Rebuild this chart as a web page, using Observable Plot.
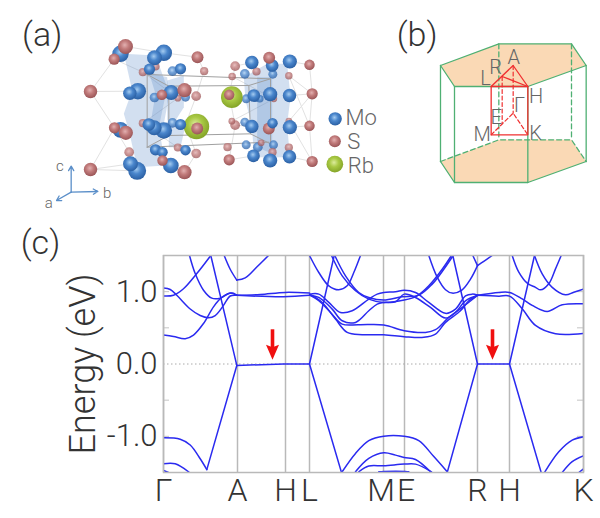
<!DOCTYPE html>
<html><head><meta charset="utf-8">
<script src="https://cdn.jsdelivr.net/npm/d3@7"></script>
<script src="https://cdn.jsdelivr.net/npm/@observablehq/plot@0.6"></script>
<style>
html,body{margin:0;padding:0;background:#fff;width:600px;height:518px;overflow:hidden}
#wrap{position:relative;width:600px;height:518px}
#wrap svg{position:absolute;background:transparent;overflow:visible}
</style></head><body><div id="wrap"></div>
<script>
const FONT = "Roboto,sans-serif";
// ---------- panel (c): band structure [k, energy eV]
const kTicks = [0,74,122,146,220,241,314,346,420];
const kLabelPos = [0,74,122,146,217.5,242.5,314,346,420];
const kLabels = ["Γ","A","H","L","M","E","R","H","K"];
const energyTicks = [-1,0,1];
const minorTicks = [-1,-0.5,0.5,1];
const arrowK = [109,329];
const straightBands = [
 [[47.3,1.5],[73.3,-0.02],[120,0],[146,0],[170.7,1.5]],
 [[73.3,-0.02],[43.3,-1.46]],
 [[146,0],[178,-1.5]],
 [[289.3,1.5],[314,0],[346,0],[371,1.5]],
 [[314,0],[283.7,-1.5]],
 [[346,0],[377.7,-1.5]]
];
const bandG1=[[0,1.05],[6.7,1.03],[13.3,.95],[26.7,.76],[36.7,.67],[45,.64],[51.7,.67],[60,.81],[66.7,.94],[73.3,.95]];
const bandG2=[[0,.94],[10,.95],[20,1.04],[33.3,1.25],[47.3,1.5]];
const bandG3=[[26,1.5],[31.7,1.25],[40,1.02],[48.3,.91],[56.7,.91],[66.7,.98],[73.3,.95]];
const bandG4=[[0,.40],[10,.38],[21.7,.35],[30,.40],[40,.56],[50,.79],[58.3,.92],[68.3,.98],[73.3,.95]];
const bandG5=[[43.3,-1.46],[36.7,-1.31],[26.7,-1.12],[16.7,-1.04],[0,-1.02]];
const bandG6=[[0,-1.38],[11.7,-1.38],[26,-1.5]];
const bandG7=[[0,-1.47],[5,-1.5]];
const bandA1=[[60.7,1.5],[66.7,1.31],[73.3,1.16]];
const bandA2=[[73.3,1.16],[81.7,1.19],[93.3,1.34],[105,1.5]];
const flat1=[[73.3,.95],[96.7,.96],[121.7,.99],[146,.98]];
const flat2=[[73.3,.95],[120,.93],[146,.95]];
const bandL1=[[146,1.5],[155.3,1.265],[165.3,1.081],[175.3,1.026],[183.7,1.081],[190.3,1.265],[197,1.5]];
const bandL2=[[168,1.5],[178.7,1.219],[192,1.012],[205.3,.897],[220.3,.851],[240.7,.884],[253.7,.943],[265.3,1.081],[278.7,1.31],[288,1.5]];
const bandL3=[[171.3,1.5],[182,1.219],[195.3,.989],[205.3,.92],[220.3,.884],[238.7,.93],[255.3,.952],[268.7,1.104],[280.3,1.31],[289.7,1.5]];
const bandL4=[[265.3,1.5],[273.7,1.2],[282,1.026],[288.7,.98],[298.7,1.026],[307,1.173],[314,1.36]];
const bandL5=[[309.3,1.5],[314,1.36]];
const bandL6=[[314,1.36],[320.3,1.42],[328.7,1.5]];
const bandM1=[[146.3,.966],[155.3,.966],[165.3,.851],[177,.713],[188.7,.736],[205.3,.897],[213.7,.966],[220.3,.989],[232,.998],[240.7,1.021],[252,.989],[265.3,.851],[282,.70],[292,.759],[302,.943],[308.7,.966],[314.3,.95]];
const bandM2=[[146.3,.952],[155.3,.92],[168.7,.759],[178.7,.598],[192,.575],[205.3,.736],[213.7,.828],[220.3,.851],[232,.86],[240.7,.966],[252,.92],[267,.782],[282,.635],[292,.713],[302,.874],[314.3,.95]];
const bandM3=[[146.3,.952],[155.3,.874],[167,.713],[178.7,.552],[195.3,.543],[220.3,.539],[240.7,.46],[262,.437],[272,.474],[285.3,.644],[298.7,.782],[314.3,.95]];
const bandM4=[[146.3,.966],[158.7,.851],[172,.621],[183.7,.437],[198.7,.405],[220.3,.405],[240.7,.378],[260.3,.369],[272,.414],[282,.575],[297,.736],[305.3,.874],[314.3,.95]];
const lowM1=[[178.7,-1.49],[192,-1.237],[205.3,-1.06],[220.3,-.998],[240.7,-1.0],[255.3,-1.06],[270.3,-1.28],[283.7,-1.49]];
const lowM2=[[192,-1.49],[205.3,-1.306],[220.3,-1.228],[232,-1.26],[240.7,-1.292],[252,-1.32],[267,-1.49]];
const lowM3=[[195.3,-1.49],[205.3,-1.41],[220.3,-1.407],[240.7,-1.384],[252,-1.384],[268,-1.49]];
const lowM4=[[215.3,-1.49],[220.3,-1.485],[242,-1.485],[245.3,-1.49]];
const bandK1=[[314,.95],[335.3,.938],[346,.938],[358.7,.763],[372,.533],[392,.418],[419.7,.423]];
const bandK2=[[314,.95],[335.3,.989],[346,.989],[358.7,.90],[368.7,.81],[383.7,.726],[398.7,.818],[419.7,.832]];
const bandK3=[[348.7,1.5],[355.3,1.27],[364.3,1.11],[372,1.06],[377,1.025],[385.3,1.11],[392,1.315],[397.7,1.5]];
const bandK4=[[371,1.5],[378.7,1.246],[388.7,1.06],[402,.956],[410.3,.993],[419.7,1.034]];
const lowK1=[[381,-1.5],[395.3,-1.214],[408.7,-1.053],[419.7,-1.007]];
const lowK2=[[398.7,-1.5],[408.7,-1.35],[419.7,-1.27]];
const lowK3=[[415.3,-1.5],[419.7,-1.453]];
const smoothBands=[bandG1,bandG2,bandG3,bandG4,bandG5,bandG6,bandG7,bandA1,bandA2,flat1,flat2,bandL1,bandL2,bandL3,bandL4,bandL5,bandL6,bandM1,bandM2,bandM3,bandM4,lowM1,lowM2,lowM3,lowM4,bandK1,bandK2,bandK3,bandK4,lowK1,lowK2,lowK3];

// ---------- panel (a): crystal, image-space positions [x, y, radius]
const moAtoms=[[360,160,22],[462,172,20],[490,157,22],[447,206,15],[540,205,15],[516,212,13],[412,272,22],[388,278,18],[462,291,13],[512,276,20],[555,290,12],[445,372,17],[461,382,20],[360,388,21],[490,390,22],[516,367,13],[540,372,15],[465,448,15],[486,455,14],[555,449,14],[390,490,20],[410,511,24],[511,495,21],[754,186,18],[868,183,19],[815,195,17],[733,220,13],[817,221,12],[760,285,17],[809,281,19],[867,285,18],[737,295,12],[765,291,12],[778,295,10],[733,365,12],[754,378,18],[816,368,14],[868,380,19],[737,433,12],[772,440,13],[819,433,12],[759,466,17],[809,480,19],[867,469,18]];
const sAtoms=[[375,138,20],[341,176,15],[591,170,16],[427,215,11],[465,198,11],[611,212,11],[270,273,18],[552,269,19],[484,283,14],[587,287,13],[532,293,9],[342,382,15],[376,397,19],[427,368,11],[590,384,16],[532,441,11],[587,459,13],[386,455,13],[486,480,14],[270,507,18],[552,515,19],[704,197,13],[806,172,16],[927,193,14],[695,228,10],[768,213,11],[865,226,10],[686,283,14],[935,280,15],[820,295,9],[694,362,9],[704,374,13],[805,384,16],[865,362,9],[927,376,14],[681,440,11],[782,427,9],[865,441,11],[816,455,11],[686,478,15],[935,483,15]];
const rbAtoms=[[694,290,29],[588,378,34]];
const legendAtoms=[["mo",1004,355,20],["s",1003,422,18],["rb",1003,491,25]];
const legendText=[["Mo",1035,352],["S",1040,425],["Rb",1042,497]];
const polyhedra=[
 [[370,160],[465,165],[500,260],[475,380],[495,495],[410,500],[385,390],[370,340],[395,270]],
 [[445,215],[500,230],[505,290],[490,370],[450,370],[465,280]],
 [[500,240],[550,225],[550,320],[525,360],[500,360]],
 [[505,375],[555,375],[540,440],[505,440]],
 [[730,230],[800,190],[860,190],[870,290],[860,370],[868,470],[760,470],[755,380],[735,300]],
 [[770,230],[815,230],[815,460],[770,440]]
];
const cellEdges=[[[440,222],[810,235]],[[440,222],[505,257],[745,255],[810,235]],[[440,222],[440,440]],[[810,235],[810,435]],[[440,440],[805,425]],[[440,440],[505,405],[750,400],[810,430]],[[505,257],[505,405]],[[745,255],[750,400]]];
const bonds=[[[341,176],[270,273],[342,382],[270,507],[390,490]],[[270,273],[412,272]],[[270,507],[410,511]],[[375,138],[490,157],[591,170]],[[591,170],[611,212],[587,287],[555,372],[587,459],[552,515]],[[552,515],[511,495]],[[927,193],[935,280],[927,376],[935,483]],[[868,183],[927,193]],[[867,285],[935,280]],[[868,380],[927,376]],[[867,469],[935,483]],[[704,197],[686,283],[704,374],[686,478]],[[704,197],[754,186]],[[704,374],[754,378]],[[686,478],[759,466]],[[865,226],[935,280],[865,362],[935,483]],[[865,226],[927,376]],[[695,228],[820,295],[694,362]],[[427,215],[532,293],[427,368],[532,441]],[[341,176],[427,215]],[[342,382],[386,455]]];
const axesArrows=[[212,575,212,497],[212,575,292,573],[212,575,168,600]];
const axesText=[["c",178,497],["b",320,578],["a",145,607]];
const labelA=[["(a)",125,105]];

// ---------- panel (b): Brillouin zone, image-space positions
const hexTop=[[180,195],[355,130],[573,130],[617,195],[442,258],[222,258]];
const hexBottom=[[180,483],[355,418],[573,418],[617,483],[442,546],[222,546]];
const greenSolid=[[[180,195],[355,130],[573,130],[617,195],[442,258],[222,258],[180,195]],[[180,483],[222,546],[442,546],[617,483]],[[180,195],[180,483]],[[222,258],[222,546]],[[442,258],[442,546]],[[617,195],[617,483]]];
const greenDashed=[[[180,483],[355,418],[573,418],[617,483]],[[355,130],[355,418]],[[573,130],[573,418]]];
const redSolid=[[[332,258],[442,258],[442,403],[332,403],[332,258]],[[332,258],[398,195],[442,258]],[[365,228],[442,258]]];
const redDashed=[[[398,195],[398,338]],[[365,228],[365,370]],[[332,403],[398,338],[442,403]]];
const bzLabels=[["A",400,172],["R",345,200],["L",315,235],["H",467,287],["Γ",417,315],["E",347,350],["M",305,402],["K",465,400]];
const labelB=[["(b)",110,105]];

const wrap=document.getElementById("wrap");
const lineRow=a=>a.map(([x,y])=>({x,y}));
const lines=(sets,opt)=>sets.map(s=>Plot.line(lineRow(s),{x:"x",y:"y",...opt}));

// defs for sphere shading
const gradients=[["mo","#a4cbf0","#4a86cc","#2a5fa3"],["s","#e2b0b0","#c27c7c","#9a5557"],["rb","#dcec9c","#a9c944","#84a428"]];
const defsMark=()=>{
  const defs=d3.create("svg:defs");
  for(const [id,a,b,c] of gradients){
    const g=defs.append("radialGradient").attr("id",id).attr("cx","45%").attr("cy","40%").attr("r","60%");
    g.append("stop").attr("offset","0%").attr("stop-color",a);
    g.append("stop").attr("offset","45%").attr("stop-color",b);
    g.append("stop").attr("offset","100%").attr("stop-color",c);
  }
  return defs.node();
};
const tag=(arr,t)=>arr.map(([x,y,r])=>({x,y,r:r*1.12/3,t}));
const smallAtoms=[...tag(moAtoms,"mo"),...tag(sAtoms,"s")].filter(d=>d.r<5).sort((a,b)=>a.r-b.r);
const bigAtoms=[...tag(moAtoms,"mo"),...tag(sAtoms,"s")].filter(d=>d.r>=5).sort((a,b)=>a.r-b.r);
const atomDots=(data,op)=>Plot.dot(data,{x:"x",y:"y",r:"r",fill:d=>`url(#${d.t})`,fillOpacity:op,stroke:"none"});
const arrowHead={draw(c){c.moveTo(0,0);c.lineTo(-6.5,-15);c.lineTo(0,-12.5);c.lineTo(6.5,-15);c.closePath();}};

// ---- band plot
const bands=Plot.plot({
  width:600,height:518,marginLeft:163,marginRight:17,marginTop:255,marginBottom:46,
  style:{fontFamily:FONT,fontWeight:300,color:"#333",background:"#fff"},
  x:{domain:[0,420]},y:{domain:[-1.5,1.5]},
  marks:[
    Plot.ruleX(kTicks,{stroke:"#b9b9b9",strokeWidth:1.5}),
    Plot.ruleY(minorTicks,{x1:0,x2:6,stroke:"#c4c4c4"}),
    Plot.ruleY(minorTicks,{x1:414,x2:420,stroke:"#c4c4c4"}),
    Plot.ruleY([0],{stroke:"#aaa",strokeDasharray:"1.5,2.5",strokeWidth:1}),
    ...smoothBands.map(s=>Plot.line(lineRow(s),{x:"x",y:"y",curve:"catmull-rom",stroke:"#2a2af0",strokeWidth:1.5,clip:true})),
    ...straightBands.map(s=>Plot.line(lineRow(s),{x:"x",y:"y",stroke:"#2a2af0",strokeWidth:1.5,clip:true})),
    Plot.frame({stroke:"#b9b9b9",strokeWidth:1.5}),
    Plot.link(arrowK,{x1:d=>d,x2:d=>d,y1:()=>0.48,y2:()=>0.2,stroke:"#f01010",strokeWidth:3.6}),
    Plot.dot(arrowK,{x:d=>d,y:()=>0.06,symbol:arrowHead,r:6,fill:"#f01010"}),
    Plot.axisY(energyTicks,{tickSize:0,tickPadding:6,tickFormat:d=>d.toFixed(1),fontSize:31,label:null,fontWeight:300,fill:"#333"}),
    Plot.axisX(kLabelPos,{tickSize:0,tickPadding:6,tickFormat:(d,i)=>kLabels[i],fontSize:32,label:null,fontWeight:300,fill:"#333",lineAnchor:"top"}),
    Plot.text(["Energy (eV)"],{frameAnchor:"left",textAnchor:"middle",rotate:-90,dx:-80,fontSize:36,fontWeight:300,fill:"#333"})
  ]
});
wrap.append(bands);
bands.style.left="0";bands.style.top="0";

// ---- panel (a)
const panelA=Plot.plot({
  width:380,height:215,margin:0,
  style:{fontFamily:FONT,fontWeight:300,background:"transparent"},
  x:{domain:[0,1140],axis:null},y:{domain:[645,0],axis:null},
  r:{type:"identity"},color:{type:"identity"},
  marks:[
    defsMark,
    ...lines(bonds,{stroke:"#e2e2e2",strokeWidth:1}),
    ...polyhedra.map(p=>Plot.line(lineRow([...p,p[0]]),{x:"x",y:"y",fill:"#5d8dc8",fillOpacity:.28,stroke:"none"})),
    ...lines(cellEdges,{stroke:"#a0a0a0",strokeWidth:1}),
    atomDots(smallAtoms,.78),
    atomDots(tag(rbAtoms,"rb"),1),
    atomDots(bigAtoms,1),
    Plot.dot(legendAtoms,{x:d=>d[1],y:d=>d[2],r:d=>d[3]/3,fill:d=>`url(#${d[0]})`}),
    Plot.text(legendText,{x:d=>d[1],y:d=>d[2],text:d=>d[0],textAnchor:"start",fontSize:22,fill:"#666"}),
    Plot.arrow(axesArrows,{x1:d=>d[0],y1:d=>d[1],x2:d=>d[2],y2:d=>d[3],stroke:"#5b8fc9",strokeWidth:1.3,headLength:6}),
    Plot.text(axesText,{x:d=>d[1],y:d=>d[2],text:d=>d[0],fontSize:15,fill:"#666"}),
    Plot.text(labelA,{x:d=>d[1],y:d=>d[2],text:d=>d[0],fontSize:34,fill:"#333"})
  ]
});
wrap.append(panelA);
panelA.style.left="0";panelA.style.top="0";

// ---- panel (b)
const panelB=Plot.plot({
  width:220,height:215,margin:0,
  style:{fontFamily:FONT,fontWeight:300,background:"transparent"},
  x:{domain:[0,660],axis:null},y:{domain:[645,0],axis:null},
  marks:[
    ...[hexTop,hexBottom].map(p=>Plot.line(lineRow([...p,p[0]]),{x:"x",y:"y",fill:"#fad9b5",stroke:"none"})),
    ...lines(greenDashed,{stroke:"#4fb073",strokeWidth:1.3,strokeDasharray:"5,3"}),
    ...lines(greenSolid,{stroke:"#4fb073",strokeWidth:1.3}),
    ...lines(redDashed,{stroke:"#f03030",strokeWidth:1.2,strokeDasharray:"4,2.5"}),
    ...lines(redSolid,{stroke:"#f03030",strokeWidth:1.3}),
    Plot.text(bzLabels,{x:d=>d[1],y:d=>d[2],text:d=>d[0],fontSize:20,fill:"#666"}),
    Plot.text(labelB,{x:d=>d[1],y:d=>d[2],text:d=>d[0],fontSize:34,fill:"#333"})
  ]
});
wrap.append(panelB);
panelB.style.left="380px";panelB.style.top="0";

// ---- panel letter (c)
const panelC=Plot.plot({
  width:60,height:50,margin:0,
  style:{fontFamily:FONT,fontWeight:300,background:"transparent"},
  x:{domain:[0,60],axis:null},y:{domain:[50,0],axis:null},
  marks:[Plot.text(["(c)"],{x:()=>30,y:()=>25,fontSize:34,fill:"#333"})]
});
wrap.append(panelC);
panelC.style.left="10px";panelC.style.top="218px";
</script></body></html>
